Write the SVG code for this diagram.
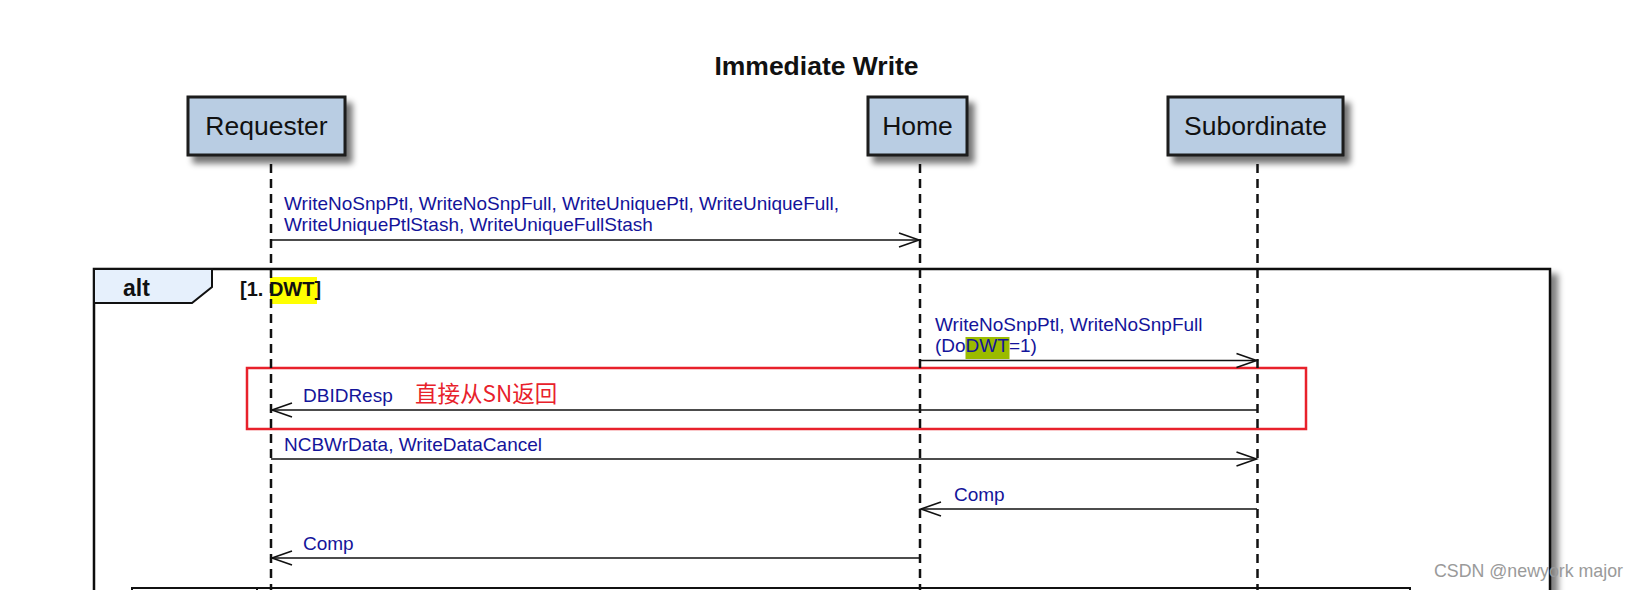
<svg xmlns="http://www.w3.org/2000/svg" width="1639" height="590" viewBox="0 0 1639 590">
<style>
.box{fill:#b9cde3;stroke:#1a1a1a;stroke-width:3}
.lbl{font-family:"Liberation Sans",Arial,sans-serif;font-size:26.5px;fill:#111;text-anchor:middle}
.life{stroke:#111;stroke-width:2.5;stroke-dasharray:9 6;fill:none}
.msg{stroke:#111;stroke-width:1.6;fill:none}
.mt{font-family:"Liberation Sans",Arial,sans-serif;font-size:19px;fill:#14149a}
.bold{font-family:"Liberation Sans",Arial,sans-serif;font-weight:bold;fill:#111}
</style>
<defs>
<filter id="sh" x="-20%" y="-20%" width="150%" height="170%">
<feGaussianBlur in="SourceAlpha" stdDeviation="3"/>
<feOffset dx="6" dy="7" result="o"/>
<feComponentTransfer in="o" result="s"><feFuncA type="linear" slope="0.55"/></feComponentTransfer>
<feMerge><feMergeNode in="s"/><feMergeNode in="SourceGraphic"/></feMerge>
</filter>
<filter id="sh2" x="-5%" y="-5%" width="110%" height="120%">
<feGaussianBlur in="SourceAlpha" stdDeviation="3"/>
<feOffset dx="7" dy="6" result="o"/>
<feComponentTransfer in="o" result="s"><feFuncA type="linear" slope="0.5"/></feComponentTransfer>
<feMerge><feMergeNode in="s"/><feMergeNode in="SourceGraphic"/></feMerge>
</filter>
<marker id="arr" markerWidth="24" markerHeight="18" refX="21" refY="9" orient="auto" markerUnits="userSpaceOnUse">
<path d="M1,2 L21,9 L1,16" fill="none" stroke="#111" stroke-width="1.6"/>
</marker>
</defs>
<rect width="1639" height="590" fill="#fff"/>

<g id="title">
<text class="bold" x="816.5" y="75" font-size="26.5" text-anchor="middle">Immediate Write</text>
</g>

<g id="alt-frame">
<rect x="94" y="269" width="1456" height="340" fill="#fff" stroke="#111" stroke-width="2.5" filter="url(#sh2)"/>
<polygon points="94,269 212,269 212,287 192,303 94,303" fill="#e6f0fc" stroke="#111" stroke-width="2"/>
<text class="bold" x="123" y="296" font-size="23">alt</text>
<rect x="270" y="277" width="47" height="27" fill="#ffff00"/>
<text class="bold" x="240" y="296" font-size="20">[1. DWT]</text>
<path d="M132,609 V588 H1410 V609 M257,588 V609" fill="none" stroke="#111" stroke-width="2"/>
</g>

<g id="highlight">
<rect x="247" y="368" width="1059" height="61" fill="none" stroke="#e8212b" stroke-width="2.5"/>
<text x="415" y="402" font-family="'Noto Sans CJK SC',sans-serif" font-size="22.5" fill="#e8212b">直接从SN返回</text>
</g>

<g id="requester">
<rect class="box" x="188" y="97" width="157" height="58" filter="url(#sh)"/>
<text class="lbl" x="266.5" y="135">Requester</text>
<line class="life" x1="271" y1="164" x2="271" y2="590"/>
</g>

<g id="home">
<rect class="box" x="868" y="97" width="99" height="58" filter="url(#sh)"/>
<text class="lbl" x="917.5" y="135">Home</text>
<line class="life" x1="920" y1="164" x2="920" y2="590"/>
</g>

<g id="subordinate">
<rect class="box" x="1168" y="97" width="175" height="58" filter="url(#sh)"/>
<text class="lbl" x="1255.5" y="135">Subordinate</text>
<line class="life" x1="1257.5" y1="164" x2="1257.5" y2="590"/>
</g>

<g id="connectors">
<line class="msg" x1="271" y1="240" x2="919" y2="240" marker-end="url(#arr)"/>
<text class="mt" x="284" y="210">WriteNoSnpPtl, WriteNoSnpFull, WriteUniquePtl, WriteUniqueFull,</text>
<text class="mt" x="284" y="231">WriteUniquePtlStash, WriteUniqueFullStash</text>

<line class="msg" x1="920" y1="360.5" x2="1256.5" y2="360.5" marker-end="url(#arr)"/>
<text class="mt" x="935" y="331">WriteNoSnpPtl, WriteNoSnpFull</text>
<rect x="965.5" y="337" width="44" height="22" fill="#9bbb00"/>
<text class="mt" x="935" y="352">(DoDWT=1)</text>

<line class="msg" x1="1257" y1="410" x2="272" y2="410" marker-end="url(#arr)"/>
<text class="mt" x="303" y="402">DBIDResp</text>

<line class="msg" x1="271" y1="459" x2="1256.5" y2="459" marker-end="url(#arr)"/>
<text class="mt" x="284" y="451">NCBWrData, WriteDataCancel</text>

<line class="msg" x1="1257" y1="509" x2="921" y2="509" marker-end="url(#arr)"/>
<text class="mt" x="954" y="501">Comp</text>

<line class="msg" x1="920" y1="558" x2="272" y2="558" marker-end="url(#arr)"/>
<text class="mt" x="303" y="550">Comp</text>
</g>

<g id="watermark">
<text x="1434" y="577" font-family="'Liberation Sans',Arial,sans-serif" font-size="17.8" fill="#9a9a9a">CSDN @newyork major</text>
</g>
</svg>
